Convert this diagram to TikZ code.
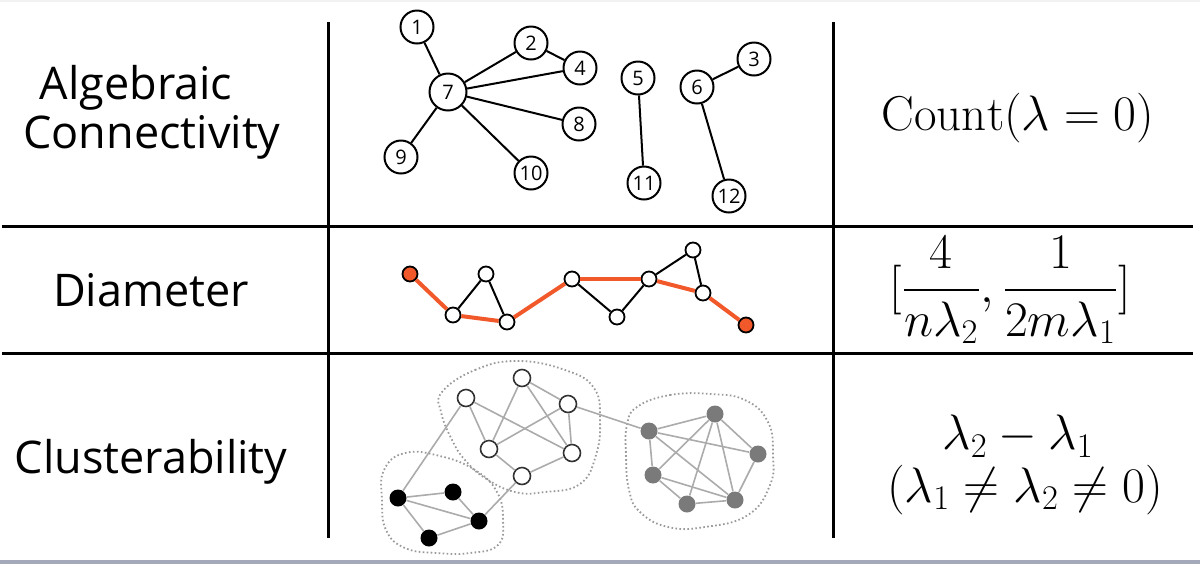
\documentclass[tikz,border=0pt]{standalone}
\usepackage{amsmath,amssymb}
\usepackage{fontspec}
\newfontfamily\labelfont{Open Sans}
\usepackage{tikz}
\usetikzlibrary{positioning}
\definecolor{pathorange}{HTML}{F2592A}
\definecolor{edgegray}{HTML}{ABABAB}
\definecolor{hullgray}{HTML}{9A9A9A}
\definecolor{clustergray}{HTML}{7A7A7A}
\definecolor{framegray}{HTML}{A3A9B8}

\begin{document}
\begin{tikzpicture}[x=0.5pt,y=-0.5pt,
    rowlabel/.style={font=\labelfont\fontsize{22.5}{26}\selectfont},
    formula/.style={font=\fontsize{24.5}{28}\selectfont},
    vert/.style={circle,draw,line width=1pt,minimum size=16.5pt,inner sep=0pt,
      font=\labelfont\fontsize{10}{10}\selectfont},
    hub/.style={vert,minimum size=18.5pt},
    dot/.style={circle,draw,line width=0.9pt,fill=white,minimum size=7.5pt,inner sep=0pt},
    enddot/.style={dot,fill=pathorange},
    pathedge/.style={pathorange,line width=2pt},
    plainedge/.style={line width=1pt},
    cnode/.style={circle,minimum size=8.5pt,inner sep=0pt},
    whitenode/.style={cnode,draw=black!80,line width=0.8pt,fill=white},
    blacknode/.style={cnode,fill=black},
    graynode/.style={cnode,fill=clustergray},
    clusteredge/.style={edgegray,line width=0.8pt},
    hull/.style={hullgray,line width=0.9pt,dash pattern=on 0.8pt off 1.2pt}]

    \useasboundingbox (0,0) rectangle (1200,564);
    \fill[black!5] (0,0) rectangle (1200,2);
    \fill[framegray] (0,560) rectangle (1200,564);

    % table rules
    \draw[line width=1.5pt] (2,226) -- (1193,226);
    \draw[line width=1.5pt] (2,353) -- (1193,353);
    \draw[line width=1.5pt] (328,22) -- (328,538);
    \draw[line width=1.5pt] (833,22) -- (833,538);

    % row labels
    \node[rowlabel] (alg1) at (136,88) {Algebraic};
    \node[rowlabel] (alg2) at (152,137) {Connectivity};
    \node[rowlabel] (diam) at (151,290) {Diameter};
    \node[rowlabel] (clus) at (151,462) {Clusterability};

    % formulas
    \node[formula] (count) at (1018,118) {$\mathrm{Count}(\lambda=0)$};
    \node[formula] (bound) at (1010,290) {$[\dfrac{4}{n\lambda_2},\dfrac{1}{2m\lambda_1}]$};
    \node[formula] (gap1) at (1018,436) {$\lambda_2-\lambda_1$};
    \node[formula] (gap2) at (1025,490) {$(\lambda_1\neq\lambda_2\neq0)$};

    % algebraic connectivity graph
    \node[vert] (n1) at (417,27) {1};
    \node[vert] (n2) at (531,43) {2};
    \node[vert] (n3) at (754,59) {3};
    \node[vert] (n4) at (580,68) {4};
    \node[vert] (n5) at (638,78) {5};
    \node[vert] (n6) at (697,87) {6};
    \node[hub] (n7) at (448,92) {7};
    \node[vert] (n8) at (579,124) {8};
    \node[vert] (n9) at (401,157) {9};
    \node[vert] (n10) at (531,173) {10};
    \node[vert] (n11) at (644,183) {11};
    \node[vert] (n12) at (729,196) {12};
    \foreach \a/\b in {1/7,2/7,4/7,2/4,8/7,9/7,10/7,5/11,6/3,6/12}
      \draw[plainedge] (n\a) -- (n\b);

    % diameter path
    \node[enddot] (p1) at (410,274) {};
    \node[dot] (p2) at (453,315) {};
    \node[dot] (p3) at (486,274) {};
    \node[dot] (p4) at (507,322) {};
    \node[dot] (p5) at (572,279) {};
    \node[dot] (p6) at (617,317) {};
    \node[dot] (p7) at (649,279) {};
    \node[dot] (p8) at (693,250) {};
    \node[dot] (p9) at (703,293) {};
    \node[enddot] (p10) at (746,325) {};
    \foreach \a/\b in {1/2,2/4,4/5,5/7,7/9,9/10}
      \draw[pathedge] (p\a) -- (p\b);
    \foreach \a/\b in {2/3,3/4,5/6,6/7,7/8,8/9}
      \draw[plainedge] (p\a) -- (p\b);

    % clusters
    \draw[hull] plot[smooth cycle,tension=0.75] coordinates
      {(442,392) (475,370) (517,361) (565,370) (594,388) (600,420) (596,455)
       (580,484) (545,492) (515,492) (485,478) (465,460) (452,440) (441,412)};
    \draw[hull] plot[smooth cycle,tension=0.75] coordinates
      {(384,470) (405,453) (440,456) (475,470) (497,492) (503,520) (498,545)
       (470,553) (437,553) (405,548) (386,530) (382,500)};
    \draw[hull] plot[smooth cycle,tension=0.75] coordinates
      {(637,407) (670,395) (710,394) (745,400) (768,422) (773,455) (770,485)
       (748,515) (705,527) (668,527) (640,512) (629,490) (626,455) (627,425)};

    \node[whitenode] (w1) at (522,378) {};
    \node[whitenode] (w2) at (466,398) {};
    \node[whitenode] (w3) at (568,404) {};
    \node[whitenode] (w4) at (489,449) {};
    \node[whitenode] (w5) at (572,453) {};
    \node[whitenode] (w6) at (522,476) {};
    \node[blacknode] (k1) at (398,498) {};
    \node[blacknode] (k2) at (453,492) {};
    \node[blacknode] (k3) at (479,521) {};
    \node[blacknode] (k4) at (429,538) {};
    \node[graynode] (g1) at (649,431) {};
    \node[graynode] (g2) at (715,414) {};
    \node[graynode] (g3) at (758,454) {};
    \node[graynode] (g4) at (653,475) {};
    \node[graynode] (g5) at (687,504) {};
    \node[graynode] (g6) at (735,500) {};
    \foreach \a/\b in {w2/w4,w2/w5,w1/w4,w1/w3,w1/w5,w3/w4,w3/w5,w4/w6,w6/w5,
                       w3/g1,w2/k1,w6/k3,
                       k1/k2,k1/k3,k1/k4,k2/k3,k4/k3,
                       g1/g2,g1/g3,g1/g4,g1/g6,g2/g4,g2/g5,g2/g6,g2/g3,
                       g3/g6,g4/g5,g4/g6,g5/g6}
      \draw[clusteredge] (\a) -- (\b);

\end{tikzpicture}
\end{document}
